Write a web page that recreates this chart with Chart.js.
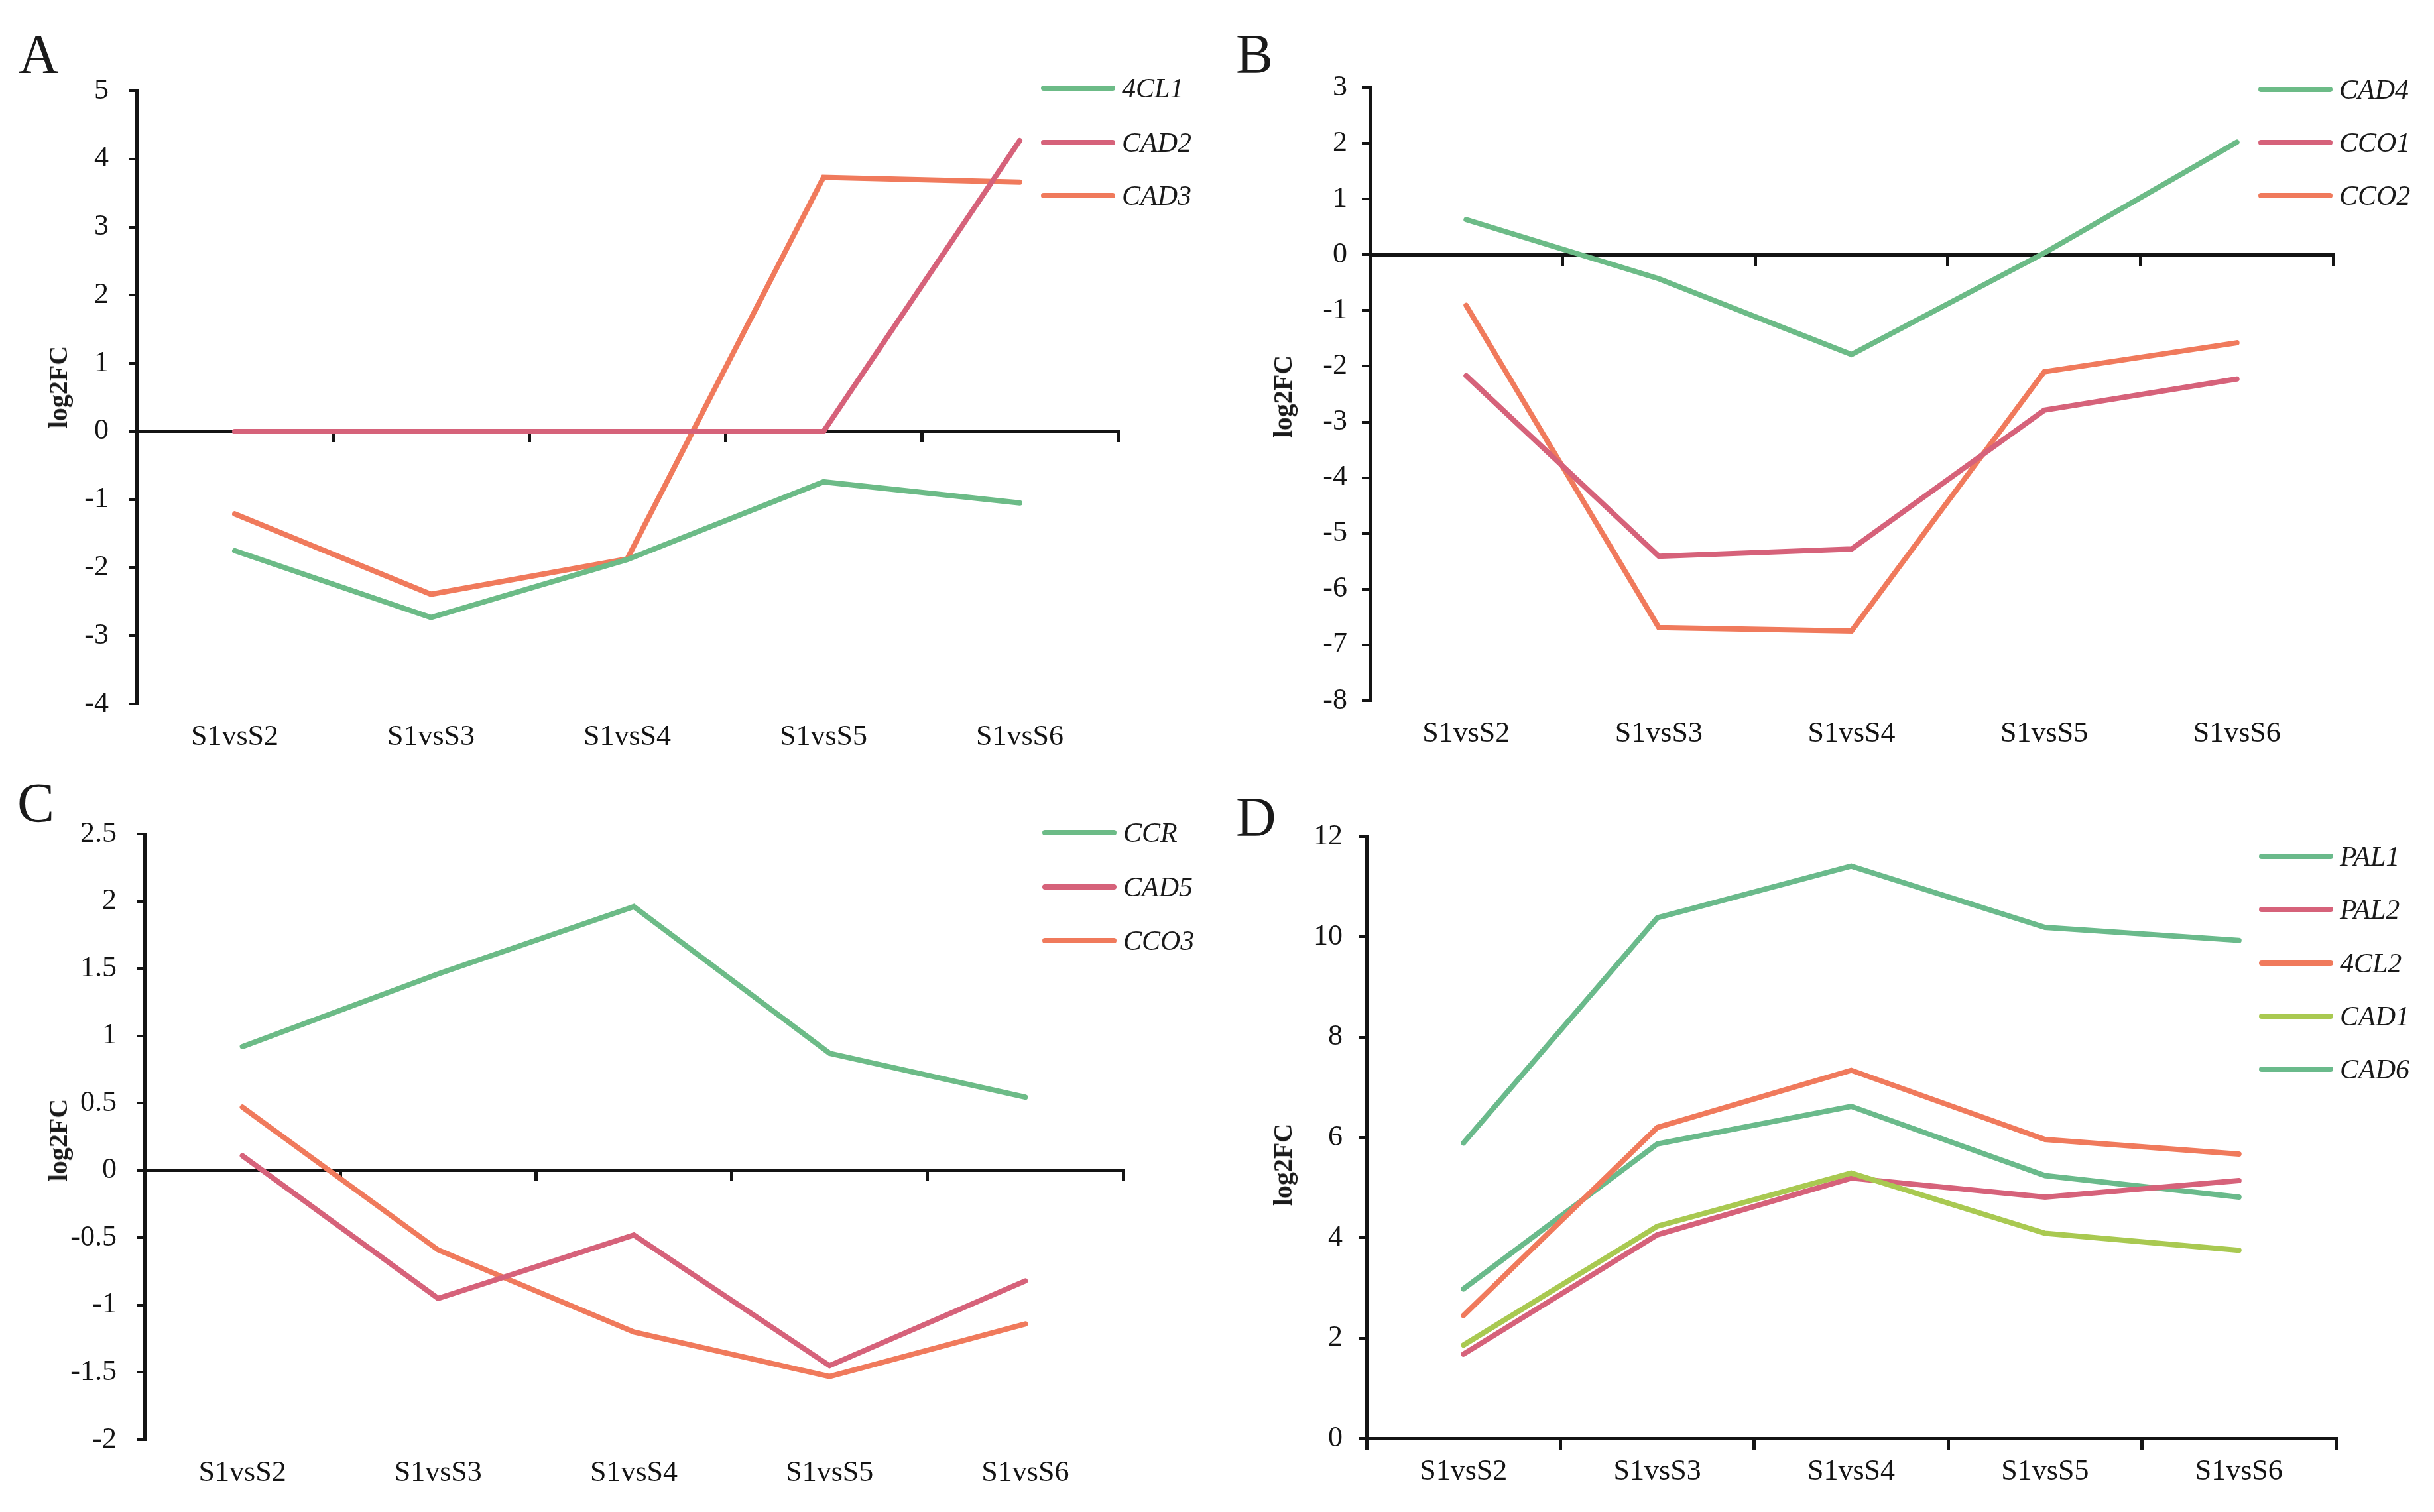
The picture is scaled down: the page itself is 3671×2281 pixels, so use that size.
<!DOCTYPE html>
<html>
<head>
<meta charset="utf-8">
<script src="https://cdn.jsdelivr.net/npm/chart.js@4.4.1/dist/chart.umd.min.js"></script>
<style>
  body { margin: 0; background: #fff; width: 3671px; height: 2281px; position: relative; overflow: hidden; font-family: "Liberation Serif", serif; color: #1a1a1a; }
  canvas { position: absolute; }
  .letter { position: absolute; font-size: 84px; line-height: 1; }
  .ytitle { position: absolute; font-size: 40px; font-weight: bold; line-height: 1; white-space: nowrap; transform: translate(-50%, -50%) rotate(-90deg); }
  .leg { position: absolute; height: 60px; display: flex; align-items: center; font-style: italic; font-size: 42px; white-space: nowrap; }
  .leg .sw { display: inline-block; width: 112px; height: 8px; border-radius: 4px; margin-right: 10px; }
</style>
</head>
<body>
<canvas id="cA" width="1835" height="1140" style="left:0;top:0"></canvas>
<canvas id="cB" width="1836" height="1140" style="left:1835px;top:0"></canvas>
<canvas id="cC" width="1835" height="1141" style="left:0;top:1140px"></canvas>
<canvas id="cD" width="1836" height="1141" style="left:1835px;top:1140px"></canvas>

<div class="letter" style="left:28px;top:40px">A</div>
<div class="letter" style="left:1864px;top:40px">B</div>
<div class="letter" style="left:26px;top:1170px">C</div>
<div class="letter" style="left:1864px;top:1191px">D</div>

<div class="ytitle" style="left:88px;top:584px">log2FC</div>
<div class="ytitle" style="left:1935px;top:598px">log2FC</div>
<div class="ytitle" style="left:88px;top:1720px">log2FC</div>
<div class="ytitle" style="left:1935px;top:1757px">log2FC</div>

<script>
// categories on the x axis
var categories = ['S1vsS2', 'S1vsS3', 'S1vsS4', 'S1vsS5', 'S1vsS6'];

// panel A
var a4CL1 = [-1.75, -2.73, -1.88, -0.74, -1.05];
var aCAD2 = [0, 0, 0, 0, 4.27];
var aCAD3 = [-1.21, -2.39, -1.87, 3.73, 3.66];
var ticksA = [-4, -3, -2, -1, 0, 1, 2, 3, 4, 5];

// panel B
var bCAD4 = [0.63, -0.43, -1.79, 0.03, 2.02];
var bCCO1 = [-2.17, -5.41, -5.28, -2.79, -2.23];
var bCCO2 = [-0.91, -6.69, -6.75, -2.10, -1.58];
var ticksB = [-8, -7, -6, -5, -4, -3, -2, -1, 0, 1, 2, 3];

// panel C
var cCCR = [0.92, 1.46, 1.96, 0.87, 0.545];
var cCAD5 = [0.11, -0.95, -0.48, -1.45, -0.82];
var cCCO3 = [0.47, -0.59, -1.20, -1.53, -1.14];
var ticksC = [-2, -1.5, -1, -0.5, 0, 0.5, 1, 1.5, 2, 2.5];

// panel D
var dPAL1 = [5.89, 10.38, 11.41, 10.19, 9.93];
var dPAL2 = [1.68, 4.06, 5.19, 4.81, 5.14];
var d4CL2 = [2.45, 6.20, 7.34, 5.96, 5.67];
var dCAD1 = [1.86, 4.23, 5.29, 4.09, 3.75];
var dCAD6 = [2.98, 5.87, 6.62, 5.24, 4.81];
var ticksD = [0, 2, 4, 6, 8, 10, 12];

var GREEN = '#6cbb87', PINK = '#d6627a', ORANGE = '#f07a5c', LIME = '#a9c951', GREEN2 = '#6aba8b';
var INK = '#141414';

function series(name, values, color, order) {
  return { label: name, data: values, borderColor: color, backgroundColor: color,
    borderWidth: 8, pointRadius: 0, borderCapStyle: 'round', tension: 0,
    order: order || 0, xAxisID: 'x', yAxisID: 'y' };
}

function panel(id, datasets, ticks, yWidth, pad, labelPad) {
  var ctx = document.getElementById(id).getContext('2d');
  return new Chart(ctx, {
    type: 'line',
    data: { labels: categories, datasets: datasets },
    options: {
      responsive: false,
      animation: false,
      devicePixelRatio: 1,
      layout: { padding: pad },
      plugins: { legend: { display: false }, tooltip: { enabled: false } },
      scales: {
        x: {
          type: 'category', offset: true, position: { y: 0 },
          border: { display: true, color: INK, width: 5 },
          grid: { display: true, offset: true, drawOnChartArea: false, drawTicks: true, tickLength: 14, color: INK, lineWidth: 5 },
          ticks: { display: false }
        },
        xl: {
          type: 'category', offset: true, position: 'bottom',
          border: { display: false },
          grid: { display: false, drawTicks: false },
          ticks: { color: INK, font: { family: 'Liberation Serif', size: 44 }, padding: 24, maxRotation: 0, autoSkip: false },
          afterFit: function (s) { s.height = 70; }
        },
        y: {
          type: 'linear', position: 'left',
          min: ticks[0], max: ticks[ticks.length - 1],
          afterBuildTicks: function (s) { s.ticks = ticks.map(function (v) { return { value: v }; }); },
          border: { display: true, color: INK, width: 5 },
          grid: { display: true, drawOnChartArea: false, drawTicks: true, tickLength: 12, color: INK, lineWidth: 4 },
          ticks: { color: INK, font: { family: 'Liberation Serif', size: 44 }, padding: labelPad,
            callback: function (v) { return String(v); } },
          afterFit: function (s) { s.width = yWidth; }
        }
      }
    }
  });
}

function legend(items, left, rows) {
  items.forEach(function (it, i) {
    var row = document.createElement('div');
    row.className = 'leg';
    row.style.left = left + 'px';
    row.style.top = (rows[i] - 30) + 'px';
    var sw = document.createElement('span');
    sw.className = 'sw';
    sw.style.background = it[1];
    row.appendChild(sw);
    row.appendChild(document.createTextNode(it[0]));
    document.body.appendChild(row);
  });
}

panel('cA', [series('4CL1', a4CL1, GREEN), series('CAD2', aCAD2, PINK), series('CAD3', aCAD3, ORANGE, 1)],
  ticksA, 206, { left: 0, top: 137, right: 149, bottom: 8 }, 30);
panel('cB', [series('CAD4', bCAD4, GREEN), series('CCO1', bCCO1, PINK), series('CCO2', bCCO2, ORANGE)],
  ticksB, 231, { left: 0, top: 132, right: 152, bottom: 13 }, 22);
panel('cC', [series('CCR', cCCR, GREEN), series('CAD5', cCAD5, PINK), series('CCO3', cCCO3, ORANGE)],
  ticksC, 218, { left: 0, top: 118, right: 141, bottom: 39 }, 30);
panel('cD', [series('PAL1', dPAL1, GREEN2), series('PAL2', dPAL2, PINK), series('4CL2', d4CL2, ORANGE),
  series('CAD1', dCAD1, LIME, -1), series('CAD6', dCAD6, GREEN2)],
  ticksD, 226, { left: 0, top: 122, right: 148, bottom: 41 }, 24);

legend([['4CL1', GREEN], ['CAD2', PINK], ['CAD3', ORANGE]], 1570, [133, 215, 295]);
legend([['CAD4', GREEN], ['CCO1', PINK], ['CCO2', ORANGE]], 3406, [135, 215, 295]);
legend([['CCR', GREEN], ['CAD5', PINK], ['CCO3', ORANGE]], 1572, [1256, 1338, 1419]);
legend([['PAL1', GREEN2], ['PAL2', PINK], ['4CL2', ORANGE], ['CAD1', LIME], ['CAD6', GREEN2]], 3407, [1292, 1372, 1453, 1533, 1613]);
</script>
</body>
</html>
